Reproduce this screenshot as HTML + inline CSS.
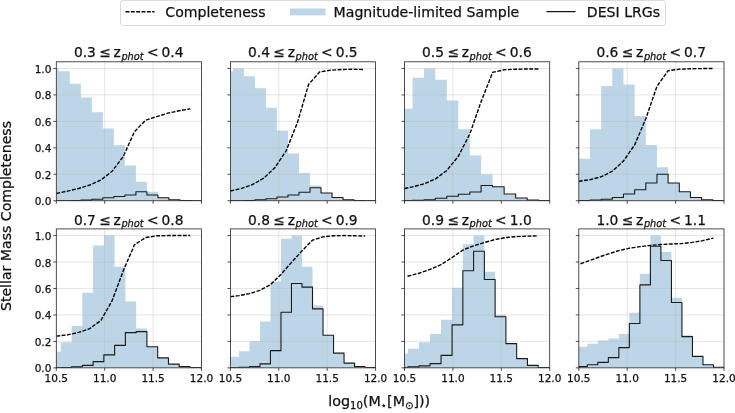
<!DOCTYPE html>
<html><head><meta charset="utf-8"><title>Stellar Mass Completeness</title>
<style>html,body{margin:0;padding:0;background:#fff}svg{display:block}</style></head>
<body>
<svg width="735" height="413" viewBox="0 0 735 413" font-family="DejaVu Sans, Liberation Sans, sans-serif">
<rect width="735" height="413" fill="#fff"/>
<defs>
<clipPath id="c00"><rect x="56.3" y="61.8" width="145.2" height="138.95"/></clipPath>
<clipPath id="c10"><rect x="56.3" y="228.9" width="145.2" height="138.95"/></clipPath>
<clipPath id="c01"><rect x="230.4" y="61.8" width="145.2" height="138.95"/></clipPath>
<clipPath id="c11"><rect x="230.4" y="228.9" width="145.2" height="138.95"/></clipPath>
<clipPath id="c02"><rect x="404.5" y="61.8" width="145.2" height="138.95"/></clipPath>
<clipPath id="c12"><rect x="404.5" y="228.9" width="145.2" height="138.95"/></clipPath>
<clipPath id="c03"><rect x="578.8" y="61.8" width="145.2" height="138.95"/></clipPath>
<clipPath id="c13"><rect x="578.8" y="228.9" width="145.2" height="138.95"/></clipPath>
</defs>
<g clip-path="url(#c00)">
<path d="M56.30,200.75 L56.30,68.45 L58.80,68.45 L58.80,71.23 L69.82,71.23 L69.82,83.66 L80.83,83.66 L80.83,97.42 L91.85,97.42 L91.85,112.24 L102.86,112.24 L102.86,128.38 L113.88,128.38 L113.88,145.18 L124.89,145.18 L124.89,165.56 L135.91,165.56 L135.91,181.75 L146.92,181.75 L146.92,191.75 L157.94,191.75 L157.94,197.50 L168.95,197.50 L168.95,199.74 L179.97,199.74 L179.97,200.49 L190.98,200.49 L190.98,200.75 L202.00,200.75 L202.00,200.75 Z" fill="#bcd6e8"/>
<line x1="104.70" x2="104.70" y1="61.8" y2="200.75" stroke="#b0b0b0" stroke-opacity="0.42" stroke-width="0.8"/>
<line x1="153.10" x2="153.10" y1="61.8" y2="200.75" stroke="#b0b0b0" stroke-opacity="0.42" stroke-width="0.8"/>
<line x1="56.3" x2="201.5" y1="200.75" y2="200.75" stroke="#b0b0b0" stroke-opacity="0.42" stroke-width="0.8"/>
<line x1="56.3" x2="201.5" y1="174.29" y2="174.29" stroke="#b0b0b0" stroke-opacity="0.42" stroke-width="0.8"/>
<line x1="56.3" x2="201.5" y1="147.83" y2="147.83" stroke="#b0b0b0" stroke-opacity="0.42" stroke-width="0.8"/>
<line x1="56.3" x2="201.5" y1="121.37" y2="121.37" stroke="#b0b0b0" stroke-opacity="0.42" stroke-width="0.8"/>
<line x1="56.3" x2="201.5" y1="94.91" y2="94.91" stroke="#b0b0b0" stroke-opacity="0.42" stroke-width="0.8"/>
<line x1="56.3" x2="201.5" y1="68.45" y2="68.45" stroke="#b0b0b0" stroke-opacity="0.42" stroke-width="0.8"/>
<path d="M56.30,200.75 L56.30,200.75 L58.80,200.75 L58.80,200.75 L69.82,200.75 L69.82,200.49 L80.83,200.49 L80.83,200.09 L91.85,200.09 L91.85,199.29 L102.86,199.29 L102.86,197.71 L113.88,197.71 L113.88,196.52 L124.89,196.52 L124.89,195.06 L135.91,195.06 L135.91,191.75 L146.92,191.75 L146.92,195.06 L157.94,195.06 L157.94,197.71 L168.95,197.71 L168.95,199.69 L179.97,199.69 L179.97,200.49 L190.98,200.49 L190.98,200.75 L202.00,200.75 L202.00,200.75" fill="none" stroke="#1a1a1a" stroke-width="1.1" stroke-linejoin="round"/>
<path d="M56.30,193.47 L67.47,191.09 L78.63,188.45 L89.80,185.01 L100.96,179.98 L112.13,171.25 L123.29,156.43 L134.46,131.69 L145.62,120.18 L156.79,116.61 L167.95,113.17 L179.12,110.79 L190.28,108.80" fill="none" stroke="#000" stroke-width="1.4" stroke-dasharray="3.9 1.45"/>
</g>
<rect x="56.3" y="61.8" width="145.2" height="138.95" fill="none" stroke="#222" stroke-width="0.8"/>
<line x1="53.3" x2="56.3" y1="200.75" y2="200.75" stroke="#222" stroke-width="0.8"/>
<text x="51.4" y="205.25" font-size="10.5" text-anchor="end" fill="#111" stroke="#111" stroke-width="0.25">0.0</text>
<line x1="53.3" x2="56.3" y1="174.29" y2="174.29" stroke="#222" stroke-width="0.8"/>
<text x="51.4" y="178.79" font-size="10.5" text-anchor="end" fill="#111" stroke="#111" stroke-width="0.25">0.2</text>
<line x1="53.3" x2="56.3" y1="147.83" y2="147.83" stroke="#222" stroke-width="0.8"/>
<text x="51.4" y="152.33" font-size="10.5" text-anchor="end" fill="#111" stroke="#111" stroke-width="0.25">0.4</text>
<line x1="53.3" x2="56.3" y1="121.37" y2="121.37" stroke="#222" stroke-width="0.8"/>
<text x="51.4" y="125.87" font-size="10.5" text-anchor="end" fill="#111" stroke="#111" stroke-width="0.25">0.6</text>
<line x1="53.3" x2="56.3" y1="94.91" y2="94.91" stroke="#222" stroke-width="0.8"/>
<text x="51.4" y="99.41" font-size="10.5" text-anchor="end" fill="#111" stroke="#111" stroke-width="0.25">0.8</text>
<line x1="53.3" x2="56.3" y1="68.45" y2="68.45" stroke="#222" stroke-width="0.8"/>
<text x="51.4" y="72.95" font-size="10.5" text-anchor="end" fill="#111" stroke="#111" stroke-width="0.25">1.0</text>
<line x1="56.30" x2="56.30" y1="200.75" y2="203.75" stroke="#222" stroke-width="0.8"/>
<line x1="104.70" x2="104.70" y1="200.75" y2="203.75" stroke="#222" stroke-width="0.8"/>
<line x1="153.10" x2="153.10" y1="200.75" y2="203.75" stroke="#222" stroke-width="0.8"/>
<line x1="201.50" x2="201.50" y1="200.75" y2="203.75" stroke="#222" stroke-width="0.8"/>
<text y="57.40" font-size="13.8" fill="#111" stroke="#111" stroke-width="0.25"><tspan x="73.90">0.3</tspan><tspan x="99.20">≤</tspan><tspan x="113.60">z</tspan><tspan x="121.40" dy="2.6" font-size="9.8" font-style="italic">phot</tspan><tspan x="146.90" dy="-2.6">&lt;</tspan><tspan x="161.60">0.4</tspan></text>
<g clip-path="url(#c01)">
<path d="M230.40,200.75 L230.40,71.23 L232.90,71.23 L232.90,68.45 L243.92,68.45 L243.92,76.26 L254.93,76.26 L254.93,88.16 L265.95,88.16 L265.95,107.74 L276.96,107.74 L276.96,130.50 L287.98,130.50 L287.98,153.52 L298.99,153.52 L298.99,172.97 L310.01,172.97 L310.01,185.54 L321.02,185.54 L321.02,193.00 L332.04,193.00 L332.04,197.50 L343.05,197.50 L343.05,199.51 L354.07,199.51 L354.07,200.49 L365.08,200.49 L365.08,200.75 L376.10,200.75 L376.10,200.75 Z" fill="#bcd6e8"/>
<line x1="278.80" x2="278.80" y1="61.8" y2="200.75" stroke="#b0b0b0" stroke-opacity="0.42" stroke-width="0.8"/>
<line x1="327.20" x2="327.20" y1="61.8" y2="200.75" stroke="#b0b0b0" stroke-opacity="0.42" stroke-width="0.8"/>
<line x1="230.4" x2="375.6" y1="200.75" y2="200.75" stroke="#b0b0b0" stroke-opacity="0.42" stroke-width="0.8"/>
<line x1="230.4" x2="375.6" y1="174.29" y2="174.29" stroke="#b0b0b0" stroke-opacity="0.42" stroke-width="0.8"/>
<line x1="230.4" x2="375.6" y1="147.83" y2="147.83" stroke="#b0b0b0" stroke-opacity="0.42" stroke-width="0.8"/>
<line x1="230.4" x2="375.6" y1="121.37" y2="121.37" stroke="#b0b0b0" stroke-opacity="0.42" stroke-width="0.8"/>
<line x1="230.4" x2="375.6" y1="94.91" y2="94.91" stroke="#b0b0b0" stroke-opacity="0.42" stroke-width="0.8"/>
<line x1="230.4" x2="375.6" y1="68.45" y2="68.45" stroke="#b0b0b0" stroke-opacity="0.42" stroke-width="0.8"/>
<path d="M230.40,200.75 L230.40,200.75 L232.90,200.75 L232.90,200.75 L243.92,200.75 L243.92,200.49 L254.93,200.49 L254.93,199.74 L265.95,199.74 L265.95,198.77 L276.96,198.77 L276.96,197.05 L287.98,197.05 L287.98,195.06 L298.99,195.06 L298.99,192.28 L310.01,192.28 L310.01,187.78 L321.02,187.78 L321.02,193.00 L332.04,193.00 L332.04,197.50 L343.05,197.50 L343.05,199.74 L354.07,199.74 L354.07,200.49 L365.08,200.49 L365.08,200.75 L376.10,200.75 L376.10,200.75" fill="none" stroke="#1a1a1a" stroke-width="1.1" stroke-linejoin="round"/>
<path d="M230.40,190.96 L241.57,188.45 L252.73,184.48 L263.90,177.99 L275.06,167.54 L286.23,150.61 L297.39,122.69 L308.56,84.46 L319.72,71.89 L330.89,70.17 L342.05,69.51 L353.22,69.24 L364.38,69.51" fill="none" stroke="#000" stroke-width="1.4" stroke-dasharray="3.9 1.45"/>
</g>
<rect x="230.4" y="61.8" width="145.2" height="138.95" fill="none" stroke="#222" stroke-width="0.8"/>
<line x1="227.4" x2="230.4" y1="200.75" y2="200.75" stroke="#222" stroke-width="0.8"/>
<line x1="227.4" x2="230.4" y1="174.29" y2="174.29" stroke="#222" stroke-width="0.8"/>
<line x1="227.4" x2="230.4" y1="147.83" y2="147.83" stroke="#222" stroke-width="0.8"/>
<line x1="227.4" x2="230.4" y1="121.37" y2="121.37" stroke="#222" stroke-width="0.8"/>
<line x1="227.4" x2="230.4" y1="94.91" y2="94.91" stroke="#222" stroke-width="0.8"/>
<line x1="227.4" x2="230.4" y1="68.45" y2="68.45" stroke="#222" stroke-width="0.8"/>
<line x1="230.40" x2="230.40" y1="200.75" y2="203.75" stroke="#222" stroke-width="0.8"/>
<line x1="278.80" x2="278.80" y1="200.75" y2="203.75" stroke="#222" stroke-width="0.8"/>
<line x1="327.20" x2="327.20" y1="200.75" y2="203.75" stroke="#222" stroke-width="0.8"/>
<line x1="375.60" x2="375.60" y1="200.75" y2="203.75" stroke="#222" stroke-width="0.8"/>
<text y="57.40" font-size="13.8" fill="#111" stroke="#111" stroke-width="0.25"><tspan x="248.00">0.4</tspan><tspan x="273.30">≤</tspan><tspan x="287.70">z</tspan><tspan x="295.50" dy="2.6" font-size="9.8" font-style="italic">phot</tspan><tspan x="321.00" dy="-2.6">&lt;</tspan><tspan x="335.70">0.5</tspan></text>
<g clip-path="url(#c02)">
<path d="M404.50,200.75 L404.50,108.67 L412.51,108.67 L412.51,77.71 L424.03,77.71 L424.03,68.45 L435.29,68.45 L435.29,79.70 L446.81,79.70 L446.81,100.47 L458.32,100.47 L458.32,129.18 L469.84,129.18 L469.84,155.50 L481.10,155.50 L481.10,174.29 L492.62,174.29 L492.62,186.73 L504.14,186.73 L504.14,194.27 L515.65,194.27 L515.65,197.97 L527.17,197.97 L527.17,199.96 L538.68,199.96 L538.68,200.49 L550.20,200.49 L550.20,200.75 Z" fill="#bcd6e8"/>
<line x1="452.90" x2="452.90" y1="61.8" y2="200.75" stroke="#b0b0b0" stroke-opacity="0.42" stroke-width="0.8"/>
<line x1="501.30" x2="501.30" y1="61.8" y2="200.75" stroke="#b0b0b0" stroke-opacity="0.42" stroke-width="0.8"/>
<line x1="404.5" x2="549.7" y1="200.75" y2="200.75" stroke="#b0b0b0" stroke-opacity="0.42" stroke-width="0.8"/>
<line x1="404.5" x2="549.7" y1="174.29" y2="174.29" stroke="#b0b0b0" stroke-opacity="0.42" stroke-width="0.8"/>
<line x1="404.5" x2="549.7" y1="147.83" y2="147.83" stroke="#b0b0b0" stroke-opacity="0.42" stroke-width="0.8"/>
<line x1="404.5" x2="549.7" y1="121.37" y2="121.37" stroke="#b0b0b0" stroke-opacity="0.42" stroke-width="0.8"/>
<line x1="404.5" x2="549.7" y1="94.91" y2="94.91" stroke="#b0b0b0" stroke-opacity="0.42" stroke-width="0.8"/>
<line x1="404.5" x2="549.7" y1="68.45" y2="68.45" stroke="#b0b0b0" stroke-opacity="0.42" stroke-width="0.8"/>
<path d="M404.50,200.75 L404.50,200.75 L412.51,200.75 L412.51,200.22 L424.03,200.22 L424.03,199.74 L435.29,199.74 L435.29,198.24 L446.81,198.24 L446.81,196.25 L458.32,196.25 L458.32,194.27 L469.84,194.27 L469.84,192.02 L481.10,192.02 L481.10,185.54 L492.62,185.54 L492.62,186.73 L504.14,186.73 L504.14,194.00 L515.65,194.00 L515.65,197.97 L527.17,197.97 L527.17,199.96 L538.68,199.96 L538.68,200.49 L550.20,200.49 L550.20,200.75" fill="none" stroke="#1a1a1a" stroke-width="1.1" stroke-linejoin="round"/>
<path d="M404.50,188.50 L412.51,186.86 L424.03,183.82 L435.29,179.05 L446.81,170.45 L458.32,156.30 L469.84,133.94 L481.10,101.52 L492.62,72.42 L504.14,69.77 L515.65,69.24 L527.17,68.98 L538.68,68.98" fill="none" stroke="#000" stroke-width="1.4" stroke-dasharray="3.9 1.45"/>
</g>
<rect x="404.5" y="61.8" width="145.2" height="138.95" fill="none" stroke="#222" stroke-width="0.8"/>
<line x1="401.5" x2="404.5" y1="200.75" y2="200.75" stroke="#222" stroke-width="0.8"/>
<line x1="401.5" x2="404.5" y1="174.29" y2="174.29" stroke="#222" stroke-width="0.8"/>
<line x1="401.5" x2="404.5" y1="147.83" y2="147.83" stroke="#222" stroke-width="0.8"/>
<line x1="401.5" x2="404.5" y1="121.37" y2="121.37" stroke="#222" stroke-width="0.8"/>
<line x1="401.5" x2="404.5" y1="94.91" y2="94.91" stroke="#222" stroke-width="0.8"/>
<line x1="401.5" x2="404.5" y1="68.45" y2="68.45" stroke="#222" stroke-width="0.8"/>
<line x1="404.50" x2="404.50" y1="200.75" y2="203.75" stroke="#222" stroke-width="0.8"/>
<line x1="452.90" x2="452.90" y1="200.75" y2="203.75" stroke="#222" stroke-width="0.8"/>
<line x1="501.30" x2="501.30" y1="200.75" y2="203.75" stroke="#222" stroke-width="0.8"/>
<line x1="549.70" x2="549.70" y1="200.75" y2="203.75" stroke="#222" stroke-width="0.8"/>
<text y="57.40" font-size="13.8" fill="#111" stroke="#111" stroke-width="0.25"><tspan x="422.10">0.5</tspan><tspan x="447.40">≤</tspan><tspan x="461.80">z</tspan><tspan x="469.60" dy="2.6" font-size="9.8" font-style="italic">phot</tspan><tspan x="495.10" dy="-2.6">&lt;</tspan><tspan x="509.80">0.6</tspan></text>
<g clip-path="url(#c03)">
<path d="M578.80,200.75 L578.80,158.68 L589.97,158.68 L589.97,129.18 L601.13,129.18 L601.13,85.91 L612.30,85.91 L612.30,68.45 L623.46,68.45 L623.46,84.46 L634.63,84.46 L634.63,115.95 L645.79,115.95 L645.79,144.92 L656.96,144.92 L656.96,167.28 L668.12,167.28 L668.12,183.02 L679.29,183.02 L679.29,191.75 L690.45,191.75 L690.45,197.50 L701.62,197.50 L701.62,199.74 L712.78,199.74 L712.78,200.49 L723.95,200.49 L723.95,200.75 Z" fill="#bcd6e8"/>
<line x1="627.20" x2="627.20" y1="61.8" y2="200.75" stroke="#b0b0b0" stroke-opacity="0.42" stroke-width="0.8"/>
<line x1="675.60" x2="675.60" y1="61.8" y2="200.75" stroke="#b0b0b0" stroke-opacity="0.42" stroke-width="0.8"/>
<line x1="578.8" x2="724.0" y1="200.75" y2="200.75" stroke="#b0b0b0" stroke-opacity="0.42" stroke-width="0.8"/>
<line x1="578.8" x2="724.0" y1="174.29" y2="174.29" stroke="#b0b0b0" stroke-opacity="0.42" stroke-width="0.8"/>
<line x1="578.8" x2="724.0" y1="147.83" y2="147.83" stroke="#b0b0b0" stroke-opacity="0.42" stroke-width="0.8"/>
<line x1="578.8" x2="724.0" y1="121.37" y2="121.37" stroke="#b0b0b0" stroke-opacity="0.42" stroke-width="0.8"/>
<line x1="578.8" x2="724.0" y1="94.91" y2="94.91" stroke="#b0b0b0" stroke-opacity="0.42" stroke-width="0.8"/>
<line x1="578.8" x2="724.0" y1="68.45" y2="68.45" stroke="#b0b0b0" stroke-opacity="0.42" stroke-width="0.8"/>
<path d="M578.80,200.75 L578.80,200.49 L589.97,200.49 L589.97,199.96 L601.13,199.96 L601.13,199.29 L612.30,199.29 L612.30,197.50 L623.46,197.50 L623.46,194.00 L634.63,194.00 L634.63,189.77 L645.79,189.77 L645.79,183.02 L656.96,183.02 L656.96,174.29 L668.12,174.29 L668.12,183.02 L679.29,183.02 L679.29,191.75 L690.45,191.75 L690.45,197.50 L701.62,197.50 L701.62,199.74 L712.78,199.74 L712.78,200.49 L723.95,200.49 L723.95,200.75" fill="none" stroke="#1a1a1a" stroke-width="1.1" stroke-linejoin="round"/>
<path d="M578.80,181.30 L589.97,179.71 L601.13,176.80 L612.30,171.25 L623.46,161.06 L634.63,144.92 L645.79,118.72 L656.96,86.31 L668.12,70.70 L679.29,69.24 L690.45,68.71 L701.62,68.58 L712.78,68.45" fill="none" stroke="#000" stroke-width="1.4" stroke-dasharray="3.9 1.45"/>
</g>
<rect x="578.8" y="61.8" width="145.2" height="138.95" fill="none" stroke="#222" stroke-width="0.8"/>
<line x1="575.8" x2="578.8" y1="200.75" y2="200.75" stroke="#222" stroke-width="0.8"/>
<line x1="575.8" x2="578.8" y1="174.29" y2="174.29" stroke="#222" stroke-width="0.8"/>
<line x1="575.8" x2="578.8" y1="147.83" y2="147.83" stroke="#222" stroke-width="0.8"/>
<line x1="575.8" x2="578.8" y1="121.37" y2="121.37" stroke="#222" stroke-width="0.8"/>
<line x1="575.8" x2="578.8" y1="94.91" y2="94.91" stroke="#222" stroke-width="0.8"/>
<line x1="575.8" x2="578.8" y1="68.45" y2="68.45" stroke="#222" stroke-width="0.8"/>
<line x1="578.80" x2="578.80" y1="200.75" y2="203.75" stroke="#222" stroke-width="0.8"/>
<line x1="627.20" x2="627.20" y1="200.75" y2="203.75" stroke="#222" stroke-width="0.8"/>
<line x1="675.60" x2="675.60" y1="200.75" y2="203.75" stroke="#222" stroke-width="0.8"/>
<line x1="724.00" x2="724.00" y1="200.75" y2="203.75" stroke="#222" stroke-width="0.8"/>
<text y="57.40" font-size="13.8" fill="#111" stroke="#111" stroke-width="0.25"><tspan x="596.40">0.6</tspan><tspan x="621.70">≤</tspan><tspan x="636.10">z</tspan><tspan x="643.90" dy="2.6" font-size="9.8" font-style="italic">phot</tspan><tspan x="669.40" dy="-2.6">&lt;</tspan><tspan x="684.10">0.7</tspan></text>
<g clip-path="url(#c10)">
<path d="M56.30,367.85 L56.30,351.84 L60.81,351.84 L60.81,342.32 L71.57,342.32 L71.57,326.04 L82.34,326.04 L82.34,292.70 L93.10,292.70 L93.10,245.60 L103.86,245.60 L103.86,235.55 L114.63,235.55 L114.63,266.77 L125.39,266.77 L125.39,301.57 L136.16,301.57 L136.16,328.56 L146.92,328.56 L146.92,346.68 L157.69,346.68 L157.69,357.85 L168.45,357.85 L168.45,364.15 L179.22,364.15 L179.22,366.39 L189.98,366.39 L189.98,367.59 L200.75,367.59 L200.75,367.85 Z" fill="#bcd6e8"/>
<line x1="104.70" x2="104.70" y1="228.9" y2="367.85" stroke="#b0b0b0" stroke-opacity="0.42" stroke-width="0.8"/>
<line x1="153.10" x2="153.10" y1="228.9" y2="367.85" stroke="#b0b0b0" stroke-opacity="0.42" stroke-width="0.8"/>
<line x1="56.3" x2="201.5" y1="367.85" y2="367.85" stroke="#b0b0b0" stroke-opacity="0.42" stroke-width="0.8"/>
<line x1="56.3" x2="201.5" y1="341.39" y2="341.39" stroke="#b0b0b0" stroke-opacity="0.42" stroke-width="0.8"/>
<line x1="56.3" x2="201.5" y1="314.93" y2="314.93" stroke="#b0b0b0" stroke-opacity="0.42" stroke-width="0.8"/>
<line x1="56.3" x2="201.5" y1="288.47" y2="288.47" stroke="#b0b0b0" stroke-opacity="0.42" stroke-width="0.8"/>
<line x1="56.3" x2="201.5" y1="262.01" y2="262.01" stroke="#b0b0b0" stroke-opacity="0.42" stroke-width="0.8"/>
<line x1="56.3" x2="201.5" y1="235.55" y2="235.55" stroke="#b0b0b0" stroke-opacity="0.42" stroke-width="0.8"/>
<path d="M56.30,367.85 L56.30,367.85 L60.81,367.85 L60.81,367.59 L71.57,367.59 L71.57,366.84 L82.34,366.84 L82.34,365.34 L93.10,365.34 L93.10,361.63 L103.86,361.63 L103.86,354.88 L114.63,354.88 L114.63,345.36 L125.39,345.36 L125.39,332.66 L136.16,332.66 L136.16,331.60 L146.92,331.60 L146.92,346.68 L157.69,346.68 L157.69,357.85 L168.45,357.85 L168.45,364.15 L179.22,364.15 L179.22,366.61 L189.98,366.61 L189.98,367.59 L200.75,367.59 L200.75,367.85" fill="none" stroke="#1a1a1a" stroke-width="1.1" stroke-linejoin="round"/>
<path d="M56.30,336.10 L67.47,334.91 L78.63,332.39 L89.80,328.56 L100.96,320.35 L112.13,300.64 L123.29,270.74 L134.46,244.81 L145.62,237.53 L156.79,235.81 L167.95,235.55 L179.12,235.55 L190.28,235.55" fill="none" stroke="#000" stroke-width="1.4" stroke-dasharray="3.9 1.45"/>
</g>
<rect x="56.3" y="228.9" width="145.2" height="138.95" fill="none" stroke="#222" stroke-width="0.8"/>
<line x1="53.3" x2="56.3" y1="367.85" y2="367.85" stroke="#222" stroke-width="0.8"/>
<text x="51.4" y="372.35" font-size="10.5" text-anchor="end" fill="#111" stroke="#111" stroke-width="0.25">0.0</text>
<line x1="53.3" x2="56.3" y1="341.39" y2="341.39" stroke="#222" stroke-width="0.8"/>
<text x="51.4" y="345.89" font-size="10.5" text-anchor="end" fill="#111" stroke="#111" stroke-width="0.25">0.2</text>
<line x1="53.3" x2="56.3" y1="314.93" y2="314.93" stroke="#222" stroke-width="0.8"/>
<text x="51.4" y="319.43" font-size="10.5" text-anchor="end" fill="#111" stroke="#111" stroke-width="0.25">0.4</text>
<line x1="53.3" x2="56.3" y1="288.47" y2="288.47" stroke="#222" stroke-width="0.8"/>
<text x="51.4" y="292.97" font-size="10.5" text-anchor="end" fill="#111" stroke="#111" stroke-width="0.25">0.6</text>
<line x1="53.3" x2="56.3" y1="262.01" y2="262.01" stroke="#222" stroke-width="0.8"/>
<text x="51.4" y="266.51" font-size="10.5" text-anchor="end" fill="#111" stroke="#111" stroke-width="0.25">0.8</text>
<line x1="53.3" x2="56.3" y1="235.55" y2="235.55" stroke="#222" stroke-width="0.8"/>
<text x="51.4" y="240.05" font-size="10.5" text-anchor="end" fill="#111" stroke="#111" stroke-width="0.25">1.0</text>
<line x1="56.30" x2="56.30" y1="367.85" y2="370.85" stroke="#222" stroke-width="0.8"/>
<text x="56.30" y="381.95" font-size="10.5" text-anchor="middle" fill="#111" stroke="#111" stroke-width="0.25">10.5</text>
<line x1="104.70" x2="104.70" y1="367.85" y2="370.85" stroke="#222" stroke-width="0.8"/>
<text x="104.70" y="381.95" font-size="10.5" text-anchor="middle" fill="#111" stroke="#111" stroke-width="0.25">11.0</text>
<line x1="153.10" x2="153.10" y1="367.85" y2="370.85" stroke="#222" stroke-width="0.8"/>
<text x="153.10" y="381.95" font-size="10.5" text-anchor="middle" fill="#111" stroke="#111" stroke-width="0.25">11.5</text>
<line x1="201.50" x2="201.50" y1="367.85" y2="370.85" stroke="#222" stroke-width="0.8"/>
<text x="201.50" y="381.95" font-size="10.5" text-anchor="middle" fill="#111" stroke="#111" stroke-width="0.25">12.0</text>
<text y="224.50" font-size="13.8" fill="#111" stroke="#111" stroke-width="0.25"><tspan x="73.90">0.7</tspan><tspan x="99.20">≤</tspan><tspan x="113.60">z</tspan><tspan x="121.40" dy="2.6" font-size="9.8" font-style="italic">phot</tspan><tspan x="146.90" dy="-2.6">&lt;</tspan><tspan x="161.60">0.8</tspan></text>
<g clip-path="url(#c11)">
<path d="M230.40,367.85 L230.40,356.87 L238.91,356.87 L238.91,351.31 L249.43,351.31 L249.43,341.13 L259.94,341.13 L259.94,321.55 L270.45,321.55 L270.45,281.46 L280.97,281.46 L280.97,238.86 L291.48,238.86 L291.48,235.55 L302.00,235.55 L302.00,266.77 L312.51,266.77 L312.51,305.40 L323.03,305.40 L323.03,335.30 L333.54,335.30 L333.54,353.16 L344.05,353.16 L344.05,363.09 L354.57,363.09 L354.57,366.66 L365.08,366.66 L365.08,367.59 L375.60,367.59 L375.60,367.85 Z" fill="#bcd6e8"/>
<line x1="278.80" x2="278.80" y1="228.9" y2="367.85" stroke="#b0b0b0" stroke-opacity="0.42" stroke-width="0.8"/>
<line x1="327.20" x2="327.20" y1="228.9" y2="367.85" stroke="#b0b0b0" stroke-opacity="0.42" stroke-width="0.8"/>
<line x1="230.4" x2="375.6" y1="367.85" y2="367.85" stroke="#b0b0b0" stroke-opacity="0.42" stroke-width="0.8"/>
<line x1="230.4" x2="375.6" y1="341.39" y2="341.39" stroke="#b0b0b0" stroke-opacity="0.42" stroke-width="0.8"/>
<line x1="230.4" x2="375.6" y1="314.93" y2="314.93" stroke="#b0b0b0" stroke-opacity="0.42" stroke-width="0.8"/>
<line x1="230.4" x2="375.6" y1="288.47" y2="288.47" stroke="#b0b0b0" stroke-opacity="0.42" stroke-width="0.8"/>
<line x1="230.4" x2="375.6" y1="262.01" y2="262.01" stroke="#b0b0b0" stroke-opacity="0.42" stroke-width="0.8"/>
<line x1="230.4" x2="375.6" y1="235.55" y2="235.55" stroke="#b0b0b0" stroke-opacity="0.42" stroke-width="0.8"/>
<path d="M230.40,367.85 L230.40,367.85 L238.91,367.85 L238.91,367.32 L249.43,367.32 L249.43,366.66 L259.94,366.66 L259.94,363.88 L270.45,363.88 L270.45,350.65 L280.97,350.65 L280.97,312.28 L291.48,312.28 L291.48,283.57 L302.00,283.57 L302.00,287.15 L312.51,287.15 L312.51,308.84 L323.03,308.84 L323.03,335.30 L333.54,335.30 L333.54,353.16 L344.05,353.16 L344.05,363.09 L354.57,363.09 L354.57,366.66 L365.08,366.66 L365.08,367.59 L375.60,367.59 L375.60,367.85" fill="none" stroke="#1a1a1a" stroke-width="1.1" stroke-linejoin="round"/>
<path d="M230.40,296.67 L238.91,295.61 L249.43,293.63 L259.94,290.32 L270.45,284.77 L280.97,274.45 L291.48,262.41 L302.00,250.90 L312.51,240.18 L323.03,236.87 L333.54,235.81 L344.05,235.55 L354.57,235.81 L365.08,236.08" fill="none" stroke="#000" stroke-width="1.4" stroke-dasharray="3.9 1.45"/>
</g>
<rect x="230.4" y="228.9" width="145.2" height="138.95" fill="none" stroke="#222" stroke-width="0.8"/>
<line x1="227.4" x2="230.4" y1="367.85" y2="367.85" stroke="#222" stroke-width="0.8"/>
<line x1="227.4" x2="230.4" y1="341.39" y2="341.39" stroke="#222" stroke-width="0.8"/>
<line x1="227.4" x2="230.4" y1="314.93" y2="314.93" stroke="#222" stroke-width="0.8"/>
<line x1="227.4" x2="230.4" y1="288.47" y2="288.47" stroke="#222" stroke-width="0.8"/>
<line x1="227.4" x2="230.4" y1="262.01" y2="262.01" stroke="#222" stroke-width="0.8"/>
<line x1="227.4" x2="230.4" y1="235.55" y2="235.55" stroke="#222" stroke-width="0.8"/>
<line x1="230.40" x2="230.40" y1="367.85" y2="370.85" stroke="#222" stroke-width="0.8"/>
<text x="230.40" y="381.95" font-size="10.5" text-anchor="middle" fill="#111" stroke="#111" stroke-width="0.25">10.5</text>
<line x1="278.80" x2="278.80" y1="367.85" y2="370.85" stroke="#222" stroke-width="0.8"/>
<text x="278.80" y="381.95" font-size="10.5" text-anchor="middle" fill="#111" stroke="#111" stroke-width="0.25">11.0</text>
<line x1="327.20" x2="327.20" y1="367.85" y2="370.85" stroke="#222" stroke-width="0.8"/>
<text x="327.20" y="381.95" font-size="10.5" text-anchor="middle" fill="#111" stroke="#111" stroke-width="0.25">11.5</text>
<line x1="375.60" x2="375.60" y1="367.85" y2="370.85" stroke="#222" stroke-width="0.8"/>
<text x="375.60" y="381.95" font-size="10.5" text-anchor="middle" fill="#111" stroke="#111" stroke-width="0.25">12.0</text>
<text y="224.50" font-size="13.8" fill="#111" stroke="#111" stroke-width="0.25"><tspan x="248.00">0.8</tspan><tspan x="273.30">≤</tspan><tspan x="287.70">z</tspan><tspan x="295.50" dy="2.6" font-size="9.8" font-style="italic">phot</tspan><tspan x="321.00" dy="-2.6">&lt;</tspan><tspan x="335.70">0.9</tspan></text>
<g clip-path="url(#c12)">
<path d="M404.50,367.85 L404.50,353.56 L408.00,353.56 L408.00,348.67 L419.02,348.67 L419.02,342.32 L430.03,342.32 L430.03,334.11 L441.05,334.11 L441.05,319.69 L452.06,319.69 L452.06,287.68 L462.83,287.68 L462.83,244.28 L473.59,244.28 L473.59,235.55 L484.36,235.55 L484.36,271.80 L495.12,271.80 L495.12,314.67 L505.89,314.67 L505.89,343.64 L516.65,343.64 L516.65,358.59 L527.42,358.59 L527.42,365.34 L538.18,365.34 L538.18,367.59 L548.95,367.59 L548.95,367.85 Z" fill="#bcd6e8"/>
<line x1="452.90" x2="452.90" y1="228.9" y2="367.85" stroke="#b0b0b0" stroke-opacity="0.42" stroke-width="0.8"/>
<line x1="501.30" x2="501.30" y1="228.9" y2="367.85" stroke="#b0b0b0" stroke-opacity="0.42" stroke-width="0.8"/>
<line x1="404.5" x2="549.7" y1="367.85" y2="367.85" stroke="#b0b0b0" stroke-opacity="0.42" stroke-width="0.8"/>
<line x1="404.5" x2="549.7" y1="341.39" y2="341.39" stroke="#b0b0b0" stroke-opacity="0.42" stroke-width="0.8"/>
<line x1="404.5" x2="549.7" y1="314.93" y2="314.93" stroke="#b0b0b0" stroke-opacity="0.42" stroke-width="0.8"/>
<line x1="404.5" x2="549.7" y1="288.47" y2="288.47" stroke="#b0b0b0" stroke-opacity="0.42" stroke-width="0.8"/>
<line x1="404.5" x2="549.7" y1="262.01" y2="262.01" stroke="#b0b0b0" stroke-opacity="0.42" stroke-width="0.8"/>
<line x1="404.5" x2="549.7" y1="235.55" y2="235.55" stroke="#b0b0b0" stroke-opacity="0.42" stroke-width="0.8"/>
<path d="M404.50,367.85 L404.50,367.85 L408.00,367.85 L408.00,366.84 L419.02,366.84 L419.02,365.87 L430.03,365.87 L430.03,363.62 L441.05,363.62 L441.05,355.35 L452.06,355.35 L452.06,324.85 L462.83,324.85 L462.83,270.74 L473.59,270.74 L473.59,251.29 L484.36,251.29 L484.36,279.47 L495.12,279.47 L495.12,316.78 L505.89,316.78 L505.89,343.64 L516.65,343.64 L516.65,358.59 L527.42,358.59 L527.42,365.34 L538.18,365.34 L538.18,367.59 L548.95,367.59 L548.95,367.85" fill="none" stroke="#1a1a1a" stroke-width="1.1" stroke-linejoin="round"/>
<path d="M407.50,276.30 L419.02,273.26 L430.03,269.42 L441.05,264.66 L452.06,257.51 L462.83,250.10 L473.59,245.80 L484.36,242.56 L495.12,239.52 L505.89,237.53 L516.65,236.61 L527.42,236.08 L537.43,235.81" fill="none" stroke="#000" stroke-width="1.4" stroke-dasharray="3.9 1.45"/>
</g>
<rect x="404.5" y="228.9" width="145.2" height="138.95" fill="none" stroke="#222" stroke-width="0.8"/>
<line x1="401.5" x2="404.5" y1="367.85" y2="367.85" stroke="#222" stroke-width="0.8"/>
<line x1="401.5" x2="404.5" y1="341.39" y2="341.39" stroke="#222" stroke-width="0.8"/>
<line x1="401.5" x2="404.5" y1="314.93" y2="314.93" stroke="#222" stroke-width="0.8"/>
<line x1="401.5" x2="404.5" y1="288.47" y2="288.47" stroke="#222" stroke-width="0.8"/>
<line x1="401.5" x2="404.5" y1="262.01" y2="262.01" stroke="#222" stroke-width="0.8"/>
<line x1="401.5" x2="404.5" y1="235.55" y2="235.55" stroke="#222" stroke-width="0.8"/>
<line x1="404.50" x2="404.50" y1="367.85" y2="370.85" stroke="#222" stroke-width="0.8"/>
<text x="404.50" y="381.95" font-size="10.5" text-anchor="middle" fill="#111" stroke="#111" stroke-width="0.25">10.5</text>
<line x1="452.90" x2="452.90" y1="367.85" y2="370.85" stroke="#222" stroke-width="0.8"/>
<text x="452.90" y="381.95" font-size="10.5" text-anchor="middle" fill="#111" stroke="#111" stroke-width="0.25">11.0</text>
<line x1="501.30" x2="501.30" y1="367.85" y2="370.85" stroke="#222" stroke-width="0.8"/>
<text x="501.30" y="381.95" font-size="10.5" text-anchor="middle" fill="#111" stroke="#111" stroke-width="0.25">11.5</text>
<line x1="549.70" x2="549.70" y1="367.85" y2="370.85" stroke="#222" stroke-width="0.8"/>
<text x="549.70" y="381.95" font-size="10.5" text-anchor="middle" fill="#111" stroke="#111" stroke-width="0.25">12.0</text>
<text y="224.50" font-size="13.8" fill="#111" stroke="#111" stroke-width="0.25"><tspan x="422.10">0.9</tspan><tspan x="447.40">≤</tspan><tspan x="461.80">z</tspan><tspan x="469.60" dy="2.6" font-size="9.8" font-style="italic">phot</tspan><tspan x="495.10" dy="-2.6">&lt;</tspan><tspan x="509.80">1.0</tspan></text>
<g clip-path="url(#c13)">
<path d="M578.80,367.85 L578.80,346.68 L587.31,346.68 L587.31,343.64 L597.83,343.64 L597.83,340.60 L608.34,340.60 L608.34,338.61 L618.85,338.61 L618.85,334.11 L629.37,334.11 L629.37,312.81 L639.88,312.81 L639.88,273.78 L650.40,273.78 L650.40,235.55 L660.91,235.55 L660.91,252.09 L671.43,252.09 L671.43,297.86 L681.94,297.86 L681.94,335.30 L692.45,335.30 L692.45,356.08 L702.97,356.08 L702.97,364.81 L713.48,364.81 L713.48,367.59 L724.00,367.59 L724.00,367.85 Z" fill="#bcd6e8"/>
<line x1="627.20" x2="627.20" y1="228.9" y2="367.85" stroke="#b0b0b0" stroke-opacity="0.42" stroke-width="0.8"/>
<line x1="675.60" x2="675.60" y1="228.9" y2="367.85" stroke="#b0b0b0" stroke-opacity="0.42" stroke-width="0.8"/>
<line x1="578.8" x2="724.0" y1="367.85" y2="367.85" stroke="#b0b0b0" stroke-opacity="0.42" stroke-width="0.8"/>
<line x1="578.8" x2="724.0" y1="341.39" y2="341.39" stroke="#b0b0b0" stroke-opacity="0.42" stroke-width="0.8"/>
<line x1="578.8" x2="724.0" y1="314.93" y2="314.93" stroke="#b0b0b0" stroke-opacity="0.42" stroke-width="0.8"/>
<line x1="578.8" x2="724.0" y1="288.47" y2="288.47" stroke="#b0b0b0" stroke-opacity="0.42" stroke-width="0.8"/>
<line x1="578.8" x2="724.0" y1="262.01" y2="262.01" stroke="#b0b0b0" stroke-opacity="0.42" stroke-width="0.8"/>
<line x1="578.8" x2="724.0" y1="235.55" y2="235.55" stroke="#b0b0b0" stroke-opacity="0.42" stroke-width="0.8"/>
<path d="M578.80,367.85 L578.80,366.66 L587.31,366.66 L587.31,364.81 L597.83,364.81 L597.83,362.35 L608.34,362.35 L608.34,357.60 L618.85,357.60 L618.85,347.61 L629.37,347.61 L629.37,323.53 L639.88,323.53 L639.88,284.90 L650.40,284.90 L650.40,246.27 L660.91,246.27 L660.91,260.55 L671.43,260.55 L671.43,302.49 L681.94,302.49 L681.94,336.63 L692.45,336.63 L692.45,356.34 L702.97,356.34 L702.97,364.81 L713.48,364.81 L713.48,367.32 L724.00,367.32 L724.00,367.85" fill="none" stroke="#1a1a1a" stroke-width="1.1" stroke-linejoin="round"/>
<path d="M580.55,263.73 L587.31,261.35 L597.83,257.51 L608.34,253.94 L618.85,250.63 L629.37,248.25 L639.88,246.66 L650.40,245.34 L660.91,244.55 L671.43,244.02 L681.94,243.49 L692.45,242.43 L702.97,240.58 L713.48,238.06" fill="none" stroke="#000" stroke-width="1.4" stroke-dasharray="3.9 1.45"/>
</g>
<rect x="578.8" y="228.9" width="145.2" height="138.95" fill="none" stroke="#222" stroke-width="0.8"/>
<line x1="575.8" x2="578.8" y1="367.85" y2="367.85" stroke="#222" stroke-width="0.8"/>
<line x1="575.8" x2="578.8" y1="341.39" y2="341.39" stroke="#222" stroke-width="0.8"/>
<line x1="575.8" x2="578.8" y1="314.93" y2="314.93" stroke="#222" stroke-width="0.8"/>
<line x1="575.8" x2="578.8" y1="288.47" y2="288.47" stroke="#222" stroke-width="0.8"/>
<line x1="575.8" x2="578.8" y1="262.01" y2="262.01" stroke="#222" stroke-width="0.8"/>
<line x1="575.8" x2="578.8" y1="235.55" y2="235.55" stroke="#222" stroke-width="0.8"/>
<line x1="578.80" x2="578.80" y1="367.85" y2="370.85" stroke="#222" stroke-width="0.8"/>
<text x="578.80" y="381.95" font-size="10.5" text-anchor="middle" fill="#111" stroke="#111" stroke-width="0.25">10.5</text>
<line x1="627.20" x2="627.20" y1="367.85" y2="370.85" stroke="#222" stroke-width="0.8"/>
<text x="627.20" y="381.95" font-size="10.5" text-anchor="middle" fill="#111" stroke="#111" stroke-width="0.25">11.0</text>
<line x1="675.60" x2="675.60" y1="367.85" y2="370.85" stroke="#222" stroke-width="0.8"/>
<text x="675.60" y="381.95" font-size="10.5" text-anchor="middle" fill="#111" stroke="#111" stroke-width="0.25">11.5</text>
<line x1="724.00" x2="724.00" y1="367.85" y2="370.85" stroke="#222" stroke-width="0.8"/>
<text x="724.00" y="381.95" font-size="10.5" text-anchor="middle" fill="#111" stroke="#111" stroke-width="0.25">12.0</text>
<text y="224.50" font-size="13.8" fill="#111" stroke="#111" stroke-width="0.25"><tspan x="596.40">1.0</tspan><tspan x="621.70">≤</tspan><tspan x="636.10">z</tspan><tspan x="643.90" dy="2.6" font-size="9.8" font-style="italic">phot</tspan><tspan x="669.40" dy="-2.6">&lt;</tspan><tspan x="684.10">1.1</tspan></text>
<text transform="translate(11.2,216.0) rotate(-90)" font-size="14.1" text-anchor="middle" fill="#111" stroke="#111" stroke-width="0.25">Stellar Mass Completeness</text>
<text y="406.3" font-size="14.3" fill="#111" stroke="#111" stroke-width="0.25" xml:space="preserve"><tspan x="328.3">log</tspan><tspan font-size="10.01" dy="2.8">10</tspan><tspan dy="-2.8">(M</tspan><tspan x="381.9" y="406.5" font-size="4" fill="#000" stroke="#000" stroke-width="0.35">★</tspan><tspan x="387.1" y="406.3">[M</tspan><tspan font-size="10.01" dy="2.8">⊙</tspan><tspan dy="-2.8">]))</tspan></text>
<rect x="120.5" y="0.4" width="545" height="25.1" rx="2.8" ry="2.8" fill="#fff" stroke="#d2d2d2" stroke-width="0.85"/>
<line x1="125.5" x2="154.5" y1="11.7" y2="11.7" stroke="#000" stroke-width="1.4" stroke-dasharray="3.9 1.45"/>
<text x="165.3" y="17" font-size="14.1" fill="#111" stroke="#111" stroke-width="0.25">Completeness</text>
<rect x="290" y="8.5" width="35.5" height="6.8" fill="#bcd6e8"/>
<text x="333.6" y="17" font-size="14.1" fill="#111" stroke="#111" stroke-width="0.25">Magnitude-limited Sample</text>
<line x1="546.5" x2="575.5" y1="11.6" y2="11.6" stroke="#111" stroke-width="1.25"/>
<text x="586.8" y="17" font-size="14.1" fill="#111" stroke="#111" stroke-width="0.25">DESI LRGs</text>
</svg>
</body></html>
